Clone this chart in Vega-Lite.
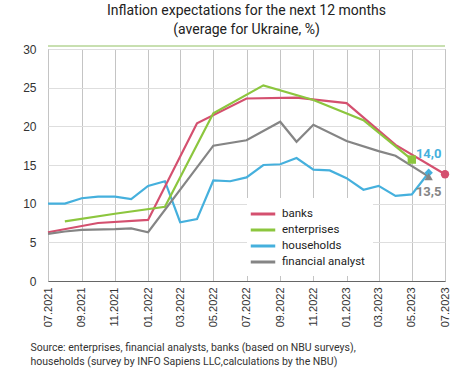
{
  "$schema": "https://vega.github.io/schema/vega-lite/v6.json",
  "autosize": {"type": "none"},
  "width": 397,
  "height": 232,
  "padding": {"left": 48, "top": 49, "right": 20, "bottom": 90},
  "background": "white",
  "title": {
    "text": ["Inflation expectations for the next 12 months", "(average for Ukraine, %)"],
    "font": "Roboto",
    "fontSize": 14,
    "fontWeight": "normal",
    "color": "#222",
    "lineHeight": 19,
    "anchor": "middle",
    "offset": 6
  },
  "data": {
    "values": [
      {"date": "2021-07-01", "series": "households", "value": 10.0},
      {"date": "2021-08-01", "series": "households", "value": 10.0},
      {"date": "2021-09-01", "series": "households", "value": 10.7},
      {"date": "2021-10-01", "series": "households", "value": 10.9},
      {"date": "2021-11-01", "series": "households", "value": 10.9},
      {"date": "2021-12-01", "series": "households", "value": 10.6},
      {"date": "2022-01-01", "series": "households", "value": 12.3},
      {"date": "2022-02-01", "series": "households", "value": 12.9},
      {"date": "2022-03-01", "series": "households", "value": 7.6},
      {"date": "2022-04-01", "series": "households", "value": 8.0},
      {"date": "2022-05-01", "series": "households", "value": 13.0},
      {"date": "2022-06-01", "series": "households", "value": 12.9},
      {"date": "2022-07-01", "series": "households", "value": 13.4},
      {"date": "2022-08-01", "series": "households", "value": 15.0},
      {"date": "2022-09-01", "series": "households", "value": 15.1},
      {"date": "2022-10-01", "series": "households", "value": 15.9},
      {"date": "2022-11-01", "series": "households", "value": 14.4},
      {"date": "2022-12-01", "series": "households", "value": 14.3},
      {"date": "2023-01-01", "series": "households", "value": 13.3},
      {"date": "2023-02-01", "series": "households", "value": 11.8},
      {"date": "2023-03-01", "series": "households", "value": 12.3},
      {"date": "2023-04-01", "series": "households", "value": 11.0},
      {"date": "2023-05-01", "series": "households", "value": 11.2},
      {"date": "2023-06-01", "series": "households", "value": 14.0},
      {"date": "2021-07-01", "series": "banks", "value": 6.3},
      {"date": "2021-10-01", "series": "banks", "value": 7.5},
      {"date": "2022-01-01", "series": "banks", "value": 7.9},
      {"date": "2022-04-01", "series": "banks", "value": 20.4},
      {"date": "2022-07-01", "series": "banks", "value": 23.6},
      {"date": "2022-10-01", "series": "banks", "value": 23.7},
      {"date": "2023-01-01", "series": "banks", "value": 23.0},
      {"date": "2023-04-01", "series": "banks", "value": 17.6},
      {"date": "2023-07-01", "series": "banks", "value": 13.8},
      {"date": "2021-08-01", "series": "enterprises", "value": 7.7},
      {"date": "2021-11-01", "series": "enterprises", "value": 8.7},
      {"date": "2022-02-01", "series": "enterprises", "value": 9.6},
      {"date": "2022-05-01", "series": "enterprises", "value": 21.7},
      {"date": "2022-08-01", "series": "enterprises", "value": 25.3},
      {"date": "2022-11-01", "series": "enterprises", "value": 23.4},
      {"date": "2023-02-01", "series": "enterprises", "value": 20.8},
      {"date": "2023-05-01", "series": "enterprises", "value": 15.7},
      {"date": "2021-07-01", "series": "financial analyst", "value": 6.1},
      {"date": "2021-08-01", "series": "financial analyst", "value": 6.4},
      {"date": "2021-09-01", "series": "financial analyst", "value": 6.6},
      {"date": "2021-11-01", "series": "financial analyst", "value": 6.7},
      {"date": "2021-12-01", "series": "financial analyst", "value": 6.8},
      {"date": "2022-01-01", "series": "financial analyst", "value": 6.3},
      {"date": "2022-05-01", "series": "financial analyst", "value": 17.5},
      {"date": "2022-07-01", "series": "financial analyst", "value": 18.2},
      {"date": "2022-09-01", "series": "financial analyst", "value": 20.6},
      {"date": "2022-10-01", "series": "financial analyst", "value": 18.0},
      {"date": "2022-11-01", "series": "financial analyst", "value": 20.2},
      {"date": "2023-01-01", "series": "financial analyst", "value": 18.1},
      {"date": "2023-03-01", "series": "financial analyst", "value": 16.8},
      {"date": "2023-04-01", "series": "financial analyst", "value": 16.2},
      {"date": "2023-06-01", "series": "financial analyst", "value": 13.5}
    ]
  },
  "encoding": {
    "x": {
      "field": "date",
      "type": "temporal",
      "scale": {"type": "utc", "domain": [{"year": 2021, "month": 7, "date": 1, "utc": true}, {"year": 2023, "month": 7, "date": 1, "utc": true}]},
      "axis": {
        "format": "%m.%Y",
        "tickCount": {"interval": "month", "step": 2},
        "labelAngle": 270,
        "labelFont": "Liberation Sans",
        "labelFontSize": 11,
        "labelColor": "#333",
        "labelPadding": 6,
        "ticks": false,
        "grid": true,
        "gridColor": "#c4c4c4",
        "gridWidth": 1,
        "domainColor": "#666",
        "labelOverlap": false,
        "labelFlush": false,
        "title": ["Source: enterprises, financial analysts, banks (based on NBU surveys),", "households (survey by INFO Sapiens LLC,calculations by the NBU)"],
        "titleFont": "Roboto",
        "titleFontSize": 10.5,
        "titleFontWeight": "normal",
        "titleColor": "#333",
        "titleAnchor": "start",
        "titleAlign": "left",
        "titleBaseline": "top",
        "titleX": -18,
        "titleY": 61,
        "titleLineHeight": 14
      }
    },
    "y": {
      "field": "value",
      "type": "quantitative",
      "scale": {"domain": [0, 30], "nice": false},
      "axis": {
        "values": [0, 5, 10, 15, 20, 25, 30],
        "title": null,
        "ticks": false,
        "labelPadding": 12,
        "labelFont": "Liberation Sans",
        "labelFontSize": 12,
        "labelColor": "#333",
        "gridColor": "#dedede",
        "domain": false
      }
    }
  },
  "resolve": {"scale": {"color": "independent", "shape": "independent"}, "legend": {"color": "independent", "shape": "independent"}},
  "layer": [
    {
      "mark": {"type": "rule", "color": "#c8dfb0", "strokeWidth": 1.5},
      "encoding": {"y": {"datum": 30.35, "type": "quantitative"}, "x": null}
    },
    {
      "mark": {"type": "line", "strokeWidth": 2.2},
      "encoding": {
        "color": {
          "field": "series",
          "type": "nominal",
          "scale": {
            "domain": ["banks", "enterprises", "households", "financial analyst"],
            "range": ["#d4506f", "#8cc63e", "#45b0dd", "#858585"]
          },
          "legend": {
            "title": null,
            "orient": "none",
            "legendX": 199,
            "legendY": 149,
            "fillColor": "white",
            "padding": 8,
            "symbolType": "M-2,0H2",
            "symbolSize": 150,
            "symbolStrokeWidth": 3,
            "labelFont": "Roboto",
            "labelFontSize": 11.5,
            "labelColor": "#222",
            "labelOffset": 11,
            "rowPadding": 2
          }
        }
      }
    },
    {
      "transform": [
        {"window": [{"op": "row_number", "as": "rk"}], "groupby": ["series"], "sort": [{"field": "date", "order": "descending"}]},
        {"filter": "datum.rk == 1"}
      ],
      "mark": {"type": "point", "filled": true, "opacity": 1, "size": 70},
      "encoding": {
        "color": {
          "field": "series",
          "type": "nominal",
          "scale": {
            "domain": ["banks", "enterprises", "households", "financial analyst"],
            "range": ["#d4506f", "#8cc63e", "#45b0dd", "#858585"]
          },
          "legend": null
        },
        "shape": {
          "field": "series",
          "type": "nominal",
          "scale": {
            "domain": ["banks", "enterprises", "households", "financial analyst"],
            "range": ["circle", "square", "diamond", "triangle-up"]
          },
          "legend": null
        }
      }
    },
    {
      "transform": [
        {"window": [{"op": "row_number", "as": "rk"}], "groupby": ["series"], "sort": [{"field": "date", "order": "descending"}]},
        {"filter": "datum.rk == 1 && datum.series == 'households'"},
        {"calculate": "replace(format(datum.value, '.1f'), '.', ',')", "as": "lbl"}
      ],
      "mark": {"type": "text", "font": "Roboto", "fontSize": 13, "fontWeight": "bold", "dy": -19, "dx": 0, "color": "#45b0dd"},
      "encoding": {
        "text": {"field": "lbl"}
      }
    },
    {
      "transform": [
        {"window": [{"op": "row_number", "as": "rk"}], "groupby": ["series"], "sort": [{"field": "date", "order": "descending"}]},
        {"filter": "datum.rk == 1 && datum.series == 'financial analyst'"},
        {"calculate": "replace(format(datum.value, '.1f'), '.', ',')", "as": "lbl"}
      ],
      "mark": {"type": "text", "font": "Roboto", "fontSize": 13, "fontWeight": "bold", "dy": 15, "dx": 0, "color": "#858585"},
      "encoding": {
        "text": {"field": "lbl"}
      }
    }
  ],
  "config": {
    "view": {"stroke": "#999", "strokeWidth": 1},
    "axis": {"gridOpacity": 1}
  }
}
